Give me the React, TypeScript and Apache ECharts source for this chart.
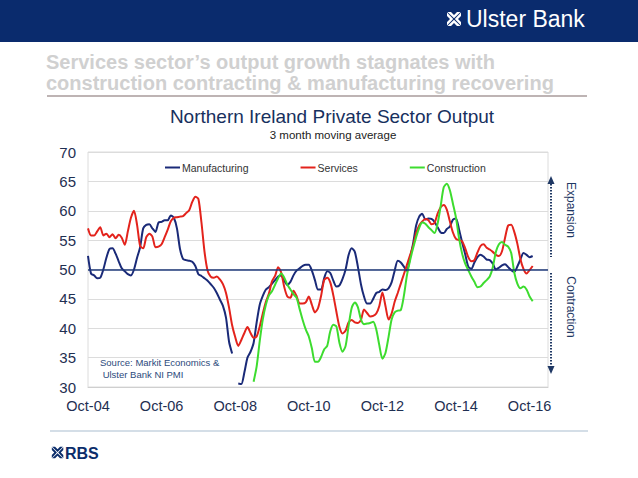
import React, { useEffect, useRef } from "react";
import * as echarts from "echarts";

const MONTHS = ["Jan", "Feb", "Mar", "Apr", "May", "Jun", "Jul", "Aug", "Sep", "Oct", "Nov", "Dec"];
// Monthly categories Oct-04 .. Apr-17
const categories: string[] = [];
for (let i = 0; i < 151; i++) {
  const k = 9 + i;
  const yy = 4 + Math.floor(k / 12);
  categories.push(`${MONTHS[k % 12]}-${yy < 10 ? "0" + yy : yy}`);
}

const yTicks = [30, 35, 40, 45, 50, 55, 60, 65, 70];

// Manufacturing, from Oct-04 (null = gap, below axis)
const manufacturing: (number | null)[] = [
  52.3, 49.3, 49.0, 48.5, 48.6, 50.0, 52.0, 53.5, 53.6, 52.7,
  51.4, 50.2, 49.7, 49.2, 49.0, 50.0, 52.0, 53.8, 57.0, 57.6,
  57.7, 57.0, 56.4, 58.0, 58.1, 58.4, 58.4, 59.2, 58.8, 57.0,
  53.5, 51.8, 51.6, 51.5, 51.3, 50.6, 49.2, 48.9, 48.5, 48.1,
  47.5, 46.9, 46.0, 44.9, 43.8, 41.8, 37.7, 35.7, null, 30.6,
  30.5, 32.5, 35.0, 36.0, 37.5, 41.0, 44.0, 45.5, 46.6, 47.0,
  47.6, 48.2, 48.8, 49.0, 48.1, 47.4, 47.9, 49.0, 49.8, 50.2,
  50.6, 50.8, 50.8, 49.8, 48.2, 46.6, 46.6, 48.5, 49.7, 49.4,
  48.1, 47.1, 47.3, 48.4, 50.0, 52.5, 53.6, 53.0, 50.5, 47.5,
  45.4, 44.2, 44.2, 45.0, 46.0, 46.2, 46.6, 46.5, 46.8, 47.8,
  49.8, 51.5, 51.2, 50.5, 49.8, 52.0, 54.4, 57.5, 59.0, 59.5,
  58.5, 58.7, 58.6, 58.1, 57.2, 56.3, 56.2, 56.9, 57.3, 58.5,
  58.7, 56.8, 54.6, 52.6, 50.5, 50.1, 51.2, 52.1, 52.5, 52.2,
  51.7, 51.6, 51.0, 50.0, 50.3, 50.7, 50.9, 50.4, 49.9, 49.6,
  50.5, 51.7, 52.8, 52.5, 52.1, 52.3,
];

// Services, from Oct-04
const services: number[] = [
  57.0, 55.8, 55.8, 56.5, 57.2, 55.8, 56.1, 55.5, 56.0, 55.3,
  55.9, 55.4, 54.2, 56.5, 58.8, 60.0, 57.6, 54.0, 53.6, 55.5,
  56.1, 55.6, 53.8, 53.9, 54.3, 55.5, 56.8, 58.2, 58.8, 58.9,
  59.0, 59.1, 59.6, 60.1, 61.5, 62.4, 62.0, 58.0, 53.0, 49.8,
  48.8, 48.6, 48.8, 48.3, 47.5, 46.0, 43.5, 40.5, 38.5, 37.0,
  38.0, 39.2, 40.2, 39.2, 38.4, 38.6, 40.3, 42.5, 44.5, 45.9,
  48.0, 48.9, 50.4, 49.5, 47.0, 45.4, 45.2, 46.4, 45.5, 44.2,
  44.2, 44.4, 45.4, 44.0, 42.7, 43.4, 45.5, 48.2, 48.6, 47.8,
  45.6, 42.8, 40.2, 39.1, 39.6, 41.0, 41.4, 41.0, 40.9, 41.4,
  43.2, 42.6, 42.0, 42.1, 42.5, 43.8, 46.1, 43.8, 41.5, 42.5,
  44.5, 46.0, 47.6, 49.2, 50.8, 52.4, 54.0, 56.2, 57.5, 58.2,
  58.6, 58.4, 57.7, 57.9, 59.5, 60.6, 61.0, 60.2, 58.2, 56.3,
  55.2, 55.0, 54.8, 53.6, 52.1, 51.4, 51.6, 52.9, 54.0, 54.3,
  53.7, 53.4, 53.0, 52.5, 52.3, 53.1, 55.4, 57.5, 57.6, 56.4,
  54.4, 51.8, 50.1, 49.3, 49.9, 50.6,
];

// Construction, starts Apr-09 (index 54)
const constructionStart = 54;
const construction: number[] = [
  30.9, 33.5, 37.8, 41.5, 44.0, 45.6, 46.3, 47.4, 48.5, 49.3,
  48.6, 47.4, 46.6, 45.8, 45.2, 43.3, 41.4, 39.8, 38.6, 36.6,
  34.3, 34.3, 35.1, 36.4, 37.0, 39.5, 40.6, 40.3, 37.5, 36.0,
  37.0, 40.5, 43.5, 44.4, 43.6, 41.5, 40.7, 40.8, 40.9, 41.1,
  39.8, 37.1, 34.8, 35.8, 38.5, 41.5, 42.7, 43.0, 43.1, 45.5,
  49.0, 51.5, 53.6, 55.5, 57.1, 58.0, 57.8, 57.2, 56.7, 56.2,
  57.8, 60.8, 64.0, 64.6, 63.5, 61.2, 58.8, 55.3, 52.7, 51.0,
  49.9, 48.8, 47.9, 47.0, 47.1, 47.7, 48.2, 48.8, 50.4, 53.0,
  54.3, 54.7, 54.2, 53.9, 52.8, 49.5, 47.6, 46.8, 47.1, 46.6,
  45.4, 44.6,
];

const headline = [
  "Services sector\u2019s output growth stagnates with",
  "construction contracting & manufacturing recovering",
];

const NAVY = "#1a2a78";
const RED = "#e3231c";
const GREEN = "#3ddc2f";
const TEXT_NAVY = "#1f2f52";
const FONT = "Liberation Sans, Arial, sans-serif";

function daisy(x0: number, y0: number, s: number, fill: string) {
  // four chevrons pointing to the centre, approximating the bank's logo
  const base = [
    [1.5, 1], [5, 1], [8, 4], [11, 1], [14.5, 1], [8, 7.2],
  ];
  const rot = (p: number[], k: number) => {
    let [x, y] = [p[0] - 8, p[1] - 8];
    for (let i = 0; i < k; i++) [x, y] = [-y, x];
    return [x0 + (x + 8) * s, y0 + (y + 8) * s];
  };
  return [0, 1, 2, 3].map((k) => ({
    type: "polygon",
    shape: { points: base.map((p) => rot(p, k)) },
    style: { fill },
    silent: true,
  }));
}

export default function App() {
  const ref = useRef<HTMLDivElement>(null);
  useEffect(() => {
    if (!ref.current) return;
    const chart = echarts.init(ref.current, null, { renderer: "svg" });
    const constructionData = categories.map((_, i) =>
      i >= constructionStart && i - constructionStart < construction.length
        ? construction[i - constructionStart]
        : null
    );
    const option: any = {
      animation: false,
      backgroundColor: "#ffffff",
      textStyle: { fontFamily: FONT },
      title: [
        {
          text: "Northern Ireland Private Sector Output",
          left: 327,
          textAlign: "center",
          top: 102,
          textStyle: { fontSize: 19, fontWeight: "normal", color: "#17305e", fontFamily: FONT },
        },
        {
          text: "3 month moving average",
          left: 328,
          textAlign: "center",
          top: 124,
          textStyle: { fontSize: 11.5, fontWeight: "normal", color: "#222222", fontFamily: FONT },
        },
      ],
      legend: {
        top: 157,
        left: 160,
        itemGap: 52,
        itemWidth: 15,
        itemHeight: 2,
        icon: "rect",
        data: ["Manufacturing", "Services", "Construction"],
        textStyle: { fontSize: 10.5, color: "#333333", padding: [0, 0, 0, -3] },
      },
      grid: {
        left: 88,
        right: 90,
        top: 152,
        bottom: 91,
        show: true,
        borderColor: "#dcdcdc",
        borderWidth: 1,
        containLabel: false,
      },
      xAxis: {
        type: "category",
        data: categories,
        boundaryGap: false,
        axisLine: { show: true, lineStyle: { color: "#cfcfcf", width: 1 } },
        axisTick: { show: false },
        axisLabel: {
          interval: (i: number) => i % 24 === 0,
          color: TEXT_NAVY,
          fontSize: 14.5,
          margin: 11,
        },
        splitLine: { show: false },
      },
      yAxis: {
        type: "value",
        min: yTicks[0],
        max: yTicks[yTicks.length - 1],
        interval: 5,
        axisLine: { show: false },
        axisTick: { show: false },
        axisLabel: { color: TEXT_NAVY, fontSize: 15, margin: 12 },
        splitLine: { show: true, lineStyle: { color: "#dcdcdc", width: 1 } },
      },
      series: [
        {
          name: "Manufacturing",
          type: "line",
          data: manufacturing,
          showSymbol: false,
          smooth: 0.25,
          connectNulls: false,
          lineStyle: { color: NAVY, width: 2 },
          itemStyle: { color: NAVY },
          markLine: {
            silent: true,
            symbol: "none",
            label: { show: false },
            lineStyle: { color: "#1f3a7a", width: 1.6, type: "solid" },
            data: [{ yAxis: 50 }],
          },
        },
        {
          name: "Services",
          type: "line",
          data: services,
          showSymbol: false,
          smooth: 0.25,
          lineStyle: { color: RED, width: 2 },
          itemStyle: { color: RED },
        },
        {
          name: "Construction",
          type: "line",
          data: constructionData,
          showSymbol: false,
          smooth: 0.25,
          connectNulls: false,
          lineStyle: { color: GREEN, width: 2 },
          itemStyle: { color: GREEN },
        },
      ],
      graphic: [
        { type: "rect", shape: { x: 0, y: 0, width: 638, height: 42 }, style: { fill: "#0a2b6d" }, silent: true },
        ...daisy(446, 11, 1.0, "#ffffff"),
        {
          type: "text",
          x: 466,
          y: 19,
          style: { text: "Ulster Bank", fill: "#ffffff", fontSize: 23, fontFamily: FONT, verticalAlign: "middle" },
          silent: true,
        },
        {
          type: "text",
          x: 46,
          y: 52,
          style: {
            text: headline[0],
            fill: "#d0d0d0",
            fontSize: 20,
            fontWeight: "bold",
            fontFamily: FONT,
            verticalAlign: "top",
          },
          silent: true,
        },
        {
          type: "text",
          x: 46,
          y: 72.5,
          style: {
            text: headline[1],
            fill: "#d0d0d0",
            fontSize: 20,
            fontWeight: "bold",
            fontFamily: FONT,
            verticalAlign: "top",
          },
          silent: true,
        },
        { type: "line", shape: { x1: 47, y1: 96, x2: 587, y2: 96 }, style: { stroke: "#a89b9b", lineWidth: 1.5 }, silent: true },
        // Expansion / contraction arrows
        { type: "line", shape: { x1: 551, y1: 184, x2: 551, y2: 257 }, style: { stroke: "#1f3864", lineWidth: 2, lineDash: [1.5, 1.5] }, silent: true },
        { type: "polygon", shape: { points: [[551, 176], [547.5, 184], [554.5, 184]] }, style: { fill: "#1f3864" }, silent: true },
        { type: "line", shape: { x1: 551, y1: 273, x2: 551, y2: 366 }, style: { stroke: "#1f3864", lineWidth: 2, lineDash: [1.5, 1.5] }, silent: true },
        { type: "polygon", shape: { points: [[551, 374], [547.5, 366], [554.5, 366]] }, style: { fill: "#1f3864" }, silent: true },
        {
          type: "text",
          x: 571,
          y: 210,
          rotation: -Math.PI / 2,
          style: { text: "Expansion", fill: "#1f3864", fontSize: 12, fontFamily: FONT, align: "center", verticalAlign: "middle" },
          silent: true,
        },
        {
          type: "text",
          x: 571,
          y: 307,
          rotation: -Math.PI / 2,
          style: { text: "Contraction", fill: "#1f3864", fontSize: 12, fontFamily: FONT, align: "center", verticalAlign: "middle" },
          silent: true,
        },
        {
          type: "text",
          x: 100,
          y: 356,
          style: {
            text: "Source: Markit Economics &\n Ulster Bank NI PMI",
            fill: "#2c4a7c",
            fontSize: 9.5,
            lineHeight: 12,
            fontFamily: FONT,
            verticalAlign: "top",
          },
          silent: true,
        },
        // footer
        { type: "line", shape: { x1: 50, y1: 431, x2: 588, y2: 431 }, style: { stroke: "#c6d3df", lineWidth: 1.5 }, silent: true },
        ...daisy(51, 446, 0.82, "#0b2d6b"),
        {
          type: "text",
          x: 65,
          y: 453,
          style: { text: "RBS", fill: "#0b2d6b", fontSize: 16, fontWeight: "bold", fontFamily: "Liberation Sans Narrow, Liberation Sans, Arial, sans-serif", verticalAlign: "middle" },
          silent: true,
        },
      ],
    };
    chart.setOption(option);
    return () => chart.dispose();
  }, []);
  return (
    <div style={{ position: "absolute", left: 0, top: 0, width: 638, height: 478, background: "#fff" }}>
      <div ref={ref} style={{ width: 638, height: 478 }} />
    </div>
  );
}
